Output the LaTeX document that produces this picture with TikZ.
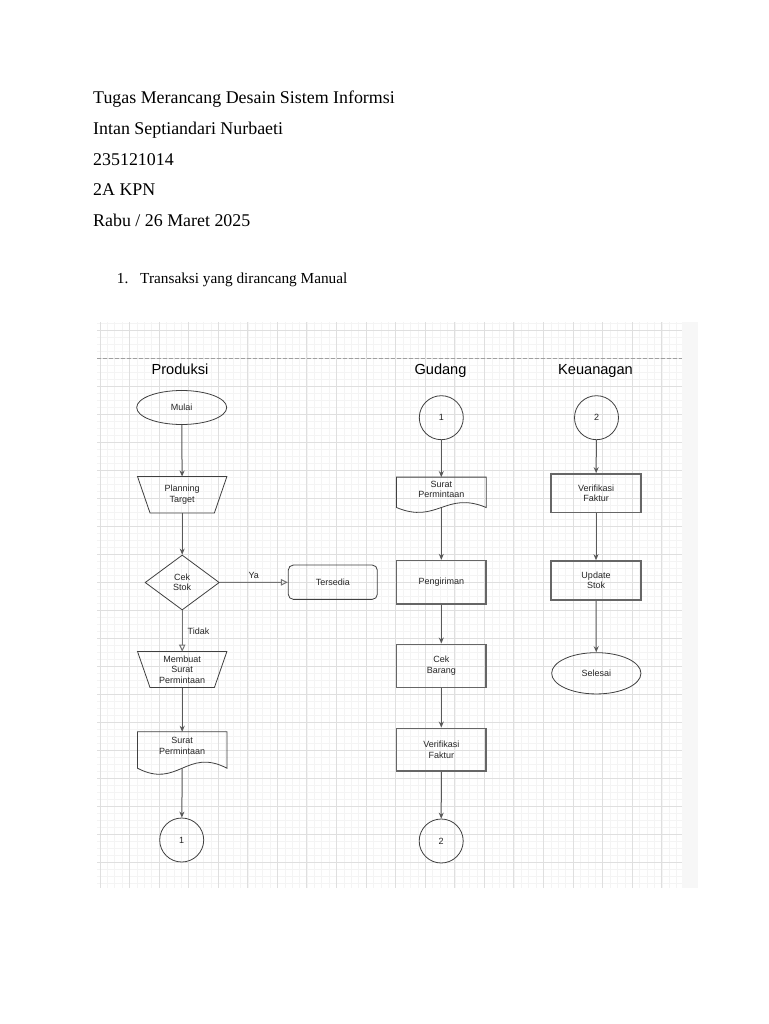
\documentclass[tikz,border=0pt]{standalone}
\usepackage{fontspec}
\setmainfont{Liberation Serif}
\setsansfont{Liberation Sans}
\usetikzlibrary{shapes.geometric, arrows.meta, calc}

\begin{document}
\begin{tikzpicture}[x=1pt, y=-1pt,
    teks/.style={anchor=base west, inner sep=0pt, font=\fontsize{17.9}{20}\selectfont},
    judul/.style={anchor=base, inner sep=0pt, font=\sffamily\fontsize{14.6}{16}\selectfont},
    lbl/.style={font=\sffamily\fontsize{9}{10.5}\selectfont, text=black!85, align=center, inner sep=0pt},
    garis/.style={draw=black!75, line width=0.8pt},
    kotak/.style={lbl, draw=black!60, line width=1.6pt, minimum width=89.3pt},
    konektor/.style={lbl, garis, circle, minimum size=44pt},
    terminal/.style={lbl, garis, ellipse},
    flow/.style={draw=black!65, line width=1pt, -{Stealth[length=6pt, width=5pt]}},
    flowopen/.style={draw=black!55, line width=1pt, -{Triangle[open, length=7pt, width=6.5pt]}}]

    \useasboundingbox[fill=white] (0,0) rectangle (768,1024);

    \node[teks] (tugas) at (93,103.5) {Tugas Merancang Desain Sistem Informsi};
    \node[teks] (nama) at (93,134.3) {Intan Septiandari Nurbaeti};
    \node[teks] (nim) at (93,165.1) {235121014};
    \node[teks] (kelas) at (93,195.9) {2A KPN};
    \node[teks] (tanggal) at (93,226.7) {Rabu / 26 Maret 2025};
    \node[teks, font=\fontsize{15.3}{17}\selectfont] (nomor) at (116.7,283.3) {1.};
    \node[teks, font=\fontsize{15.3}{17}\selectfont] (soal) at (140,283.3) {Transaksi yang dirancang Manual};

    \fill[gray!6] (682,322) rectangle (698,888);
    \begin{scope}
        \clip (97,322) rectangle (682,888);
        \foreach \i in {0,...,79}
            \draw[gray!9, line width=0.6pt] (100+\i*7.3925,322) -- (100+\i*7.3925,888);
        \foreach \j in {0,...,81}
            \draw[gray!9, line width=0.6pt] (97,323+\j*7) -- (682,323+\j*7);
        \foreach \k in {0,...,19}
            \draw[gray!25, line width=1pt] (100+\k*29.57,322) -- (100+\k*29.57,888);
        \foreach \k in {0,...,19}
            \draw[gray!25, line width=1pt] (97,330+\k*28) -- (682,330+\k*28);
    \end{scope}
    \draw[gray!75, line width=0.8pt, dash pattern=on 4pt off 2pt] (97,358.3) -- (682,358.3);

    \node[judul] (produksi) at (180,374) {Produksi};
    \node[judul] (gudang) at (440.5,374) {Gudang};
    \node[judul] (keuangan) at (595.5,374) {Keuanagan};

    \node[terminal, minimum width=90pt, minimum height=34pt] (mulai) at (181.7,407.5) {Mulai};
    \node[lbl, minimum width=89pt, minimum height=36pt] (planning) at (182.2,494.7) {Planning\\Target};
    \draw[garis] (planning.north west) -- (planning.north east) -- ($(planning.south east)+(-12.5,0)$) -- ($(planning.south west)+(12.5,0)$) -- cycle;
    \node[lbl, garis, diamond, minimum width=74.3pt, minimum height=55pt] (cekstok) at (182.2,582.5) {Cek\\Stok};
    \node[lbl, garis, rounded corners=5pt, minimum width=89pt, minimum height=34.3pt] (tersedia) at (332.8,582.2) {Tersedia};
    \node[lbl, minimum width=89pt, minimum height=35.6pt] (membuat) at (182.2,669.5) {Membuat\\Surat\\Permintaan};
    \draw[garis] (membuat.north west) -- (membuat.north east) -- ($(membuat.south east)+(-12.5,0)$) -- ($(membuat.south west)+(12.5,0)$) -- cycle;
    \node[lbl, minimum width=89pt, minimum height=28pt] (suratP) at (182.2,746) {Surat\\Permintaan};
    \draw[garis] (suratP.north west) -- (suratP.north east) -- ($(suratP.south east)+(0,8)$) .. controls ($(suratP.south)+(4.5,-13)$) and ($(suratP.south)+(-4.5,29)$) .. ($(suratP.south west)+(0,8)$) -- cycle;
    \coordinate (suratPbawah) at ($(suratP.south)+(0,8)$);
    \node[konektor] (konP1) at (181.7,840) {1};

    \node[konektor] (konG1) at (441.3,417.7) {1};
    \node[lbl, minimum width=89.3pt, minimum height=24pt] (suratG) at (441.3,489.3) {Surat\\Permintaan};
    \draw[garis] (suratG.north west) -- (suratG.north east) -- ($(suratG.south east)+(0,6)$) .. controls ($(suratG.south)+(4.5,-11)$) and ($(suratG.south)+(-4.5,23)$) .. ($(suratG.south west)+(0,6)$) -- cycle;
    \coordinate (suratGbawah) at ($(suratG.south)+(0,6)$);
    \node[kotak, minimum height=43.3pt] (kirim) at (441.3,582.3) {Pengiriman};
    \node[kotak, minimum height=43pt] (cekbarang) at (441.3,665.8) {Cek\\Barang};
    \node[kotak, minimum height=42.7pt] (verifG) at (441.3,749.7) {Verifikasi\\Faktur};
    \node[konektor] (konG2) at (441.2,841) {2};

    \node[konektor] (konK2) at (596.5,417.7) {2};
    \node[kotak, minimum width=90pt, minimum height=38.7pt] (verifK) at (596,493.3) {Verifikasi\\Faktur};
    \node[kotak, minimum width=90pt, minimum height=39pt] (update) at (596,580.5) {Update\\Stok};
    \node[terminal, minimum width=89.3pt, minimum height=41.3pt] (selesai) at (596.3,673.3) {Selesai};

    \draw[flow] (mulai) -- (planning);
    \draw[flow] (planning) -- (cekstok);
    \draw[flowopen] (cekstok) -- node[lbl, midway, above=3pt] {Ya} (tersedia);
    \draw[flowopen] (cekstok) -- node[lbl, midway, right=5pt] {Tidak} (membuat);
    \draw[flow] (membuat) -- (suratP);
    \draw[flow] (suratPbawah) -- (konP1);

    \draw[flow] (konG1) -- (suratG);
    \draw[flow] (suratGbawah) -- (kirim);
    \draw[flow] (kirim) -- (cekbarang);
    \draw[flow] (cekbarang) -- (verifG);
    \draw[flow] (verifG) -- (konG2);

    \draw[flow] (konK2) -- (verifK);
    \draw[flow] (verifK) -- (update);
    \draw[flow] (update) -- (selesai);
\end{tikzpicture}
\end{document}
